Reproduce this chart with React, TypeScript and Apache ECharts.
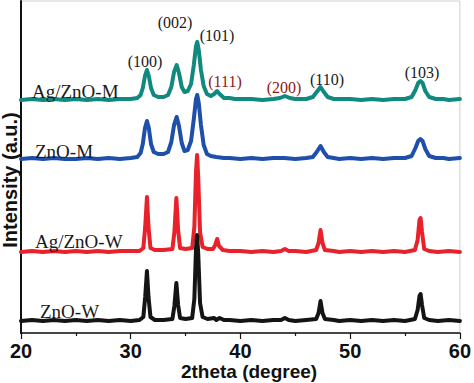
import React, { useEffect, useRef } from "react";
import * as echarts from "echarts";

// x ticks
const xTicks = [20, 30, 40, 50, 60];

// Relative intensities [2theta, counts above baseline]
const agZnoM: [number, number][] = [
  [20, 0], [21, 1], [22, 0], [23, 1], [24, 0], [25, 1], [26, 0], [27, 1], [28, 0], [29, 1], [30, 1],
  [30.6, 2], [30.9, 5], [31.1, 12], [31.3, 24], [31.48, 30], [31.65, 24], [31.85, 12], [32.1, 5], [32.5, 3],
  [33, 3], [33.4, 5], [33.7, 13], [33.95, 28], [34.19, 35], [34.4, 27], [34.65, 13], [34.9, 8], [35.2, 9],
  [35.5, 16], [35.75, 35], [35.95, 54], [36.06, 58], [36.2, 50], [36.4, 30], [36.65, 14], [36.95, 6], [37.3, 4],
  [37.6, 6], [37.87, 9], [38.1, 6], [38.5, 2], [39, 2], [39.5, 1], [40, 1], [41, 1], [42, 0], [43, 1],
  [43.6, 2], [44.05, 4], [44.5, 2], [45, 1], [46, 1], [46.6, 3], [46.95, 8], [47.3, 13], [47.6, 8], [47.95, 3],
  [48.5, 1], [49, 1], [50, 1], [51, 0], [52, 1], [53, 0], [54, 1], [55, 1], [55.6, 3], [55.95, 10], [56.2, 17],
  [56.4, 19], [56.6, 17], [56.85, 9], [57.2, 3], [57.8, 1], [58.5, 1], [59, 0], [60, 1],
];

const znoM: [number, number][] = [
  [20, 0], [21, 1], [22, 0], [23, 1], [24, 0], [25, 0], [26, 1], [27, 0], [28, 1], [29, 0], [30, 1],
  [30.6, 2], [30.9, 6], [31.1, 15], [31.3, 31], [31.48, 38], [31.65, 31], [31.85, 15], [32.1, 7], [32.5, 5],
  [33, 5], [33.4, 7], [33.7, 17], [33.95, 34], [34.19, 42], [34.4, 33], [34.65, 16], [34.9, 8], [35.2, 9],
  [35.5, 18], [35.75, 40], [35.95, 60], [36.06, 64], [36.2, 56], [36.4, 34], [36.65, 14], [36.95, 5], [37.3, 3],
  [37.8, 2], [38.5, 1], [39, 1], [40, 0], [41, 1], [42, 0], [43, 1], [44, 1], [45, 0], [46, 1],
  [46.6, 2], [46.95, 7], [47.3, 13], [47.6, 7], [47.95, 2], [48.5, 1], [49, 0], [50, 1], [51, 0], [52, 1],
  [53, 0], [54, 1], [55, 1], [55.6, 3], [55.95, 11], [56.2, 18], [56.4, 20], [56.6, 18], [56.85, 10], [57.2, 3],
  [57.8, 1], [58.5, 1], [59, 0], [60, 1],
];

const agZnoW: [number, number][] = [
  [20, 0], [21, 1], [22, 0], [23, 1], [24, 0], [25, 1], [26, 0], [27, 1], [28, 0], [29, 1], [30, 1],
  [30.8, 1], [31.15, 4], [31.32, 25], [31.48, 55], [31.62, 25], [31.8, 4], [32.2, 2], [33, 2], [33.8, 3],
  [33.98, 20], [34.16, 54], [34.32, 22], [34.5, 4], [35, 3], [35.6, 4], [35.8, 25], [35.95, 80], [36.05, 97],
  [36.15, 75], [36.32, 20], [36.55, 5], [37, 3], [37.5, 3], [37.7, 7], [37.88, 13], [38.05, 6], [38.4, 2],
  [39, 1], [40, 1], [41, 0], [42, 1], [43, 0], [43.7, 1], [44.05, 3], [44.4, 1], [45, 1], [46, 0],
  [46.9, 2], [47.12, 9], [47.3, 22], [47.48, 9], [47.7, 2], [48.5, 1], [49, 0], [50, 1], [51, 0], [52, 1],
  [53, 0], [54, 1], [55, 0], [55.9, 2], [56.15, 12], [56.32, 32], [56.42, 34], [56.55, 20], [56.75, 3],
  [57.2, 1], [58, 0], [59, 1], [60, 0],
];

const znoW: [number, number][] = [
  [20, 0], [21, 1], [22, 0], [23, 1], [24, 0], [25, 1], [26, 0], [27, 1], [28, 0], [29, 1], [30, 0],
  [30.8, 1], [31.15, 4], [31.32, 24], [31.48, 50], [31.62, 24], [31.8, 4], [32.2, 1], [33, 1], [33.8, 2],
  [33.98, 15], [34.16, 38], [34.32, 16], [34.5, 3], [35, 2], [35.6, 3], [35.8, 22], [35.95, 72], [36.05, 86],
  [36.15, 68], [36.32, 18], [36.55, 4], [37, 2], [37.6, 3], [37.8, 1], [38.1, 3], [38.5, 1], [39, 1],
  [40, 0], [41, 1], [42, 0], [43, 1], [43.7, 1], [44.05, 3], [44.4, 1], [45, 0], [46, 1],
  [46.9, 2], [47.12, 8], [47.3, 20], [47.48, 8], [47.7, 2], [48.5, 1], [49, 0], [50, 1], [51, 0], [52, 1],
  [53, 0], [54, 1], [55, 0], [55.9, 2], [56.15, 11], [56.32, 25], [56.42, 27], [56.55, 16], [56.75, 3],
  [57.2, 1], [58, 0], [59, 1], [60, 0],
];

const seriesNames = ["Ag/ZnO-M", "ZnO-M", "Ag/ZnO-W", "ZnO-W"];
const seriesOffsets = [233, 174, 81, 12];
const seriesColors = ["#10897e", "#1d4fab", "#e8212b", "#141414"];
const seriesData = [agZnoM, znoM, agZnoW, znoW];

// Peak labels
const peakLabels = ["(100)", "(002)", "(101)", "(111)", "(200)", "(110)", "(103)"];

export default function App() {
  const ref = useRef<HTMLDivElement>(null);
  useEffect(() => {
    if (!ref.current) return;
    const chart = echarts.init(ref.current, undefined, { renderer: "svg" });
    const serif = "'Liberation Serif', 'Times New Roman', serif";
    const sans = "'Liberation Sans', Arial, sans-serif";
    const labelPos: [number, number, string][] = [
      [145, 61, "#1a1a1a"],
      [175, 22, "#1a1a1a"],
      [217, 35, "#1a1a1a"],
      [225, 81, "#8b1a1a"],
      [284, 87, "#8b1a1a"],
      [327, 79, "#1a1a1a"],
      [422, 72, "#1a1a1a"],
    ];
    const namePos: [number, number][] = [
      [32, 91],
      [35, 151],
      [35, 241],
      [40, 311],
    ];
    chart.setOption({
      animation: false,
      grid: {
        left: 21,
        right: 11,
        top: 1,
        bottom: 50,
        show: true,
        borderColor: "#cfcfcf",
        borderWidth: 1,
      },
      xAxis: {
        type: "value",
        min: xTicks[0],
        max: xTicks[xTicks.length - 1],
        interval: 10,
        axisLine: { show: true, lineStyle: { color: "#111", width: 1.5 } },
        axisTick: { show: true, inside: false, length: 6, lineStyle: { color: "#111", width: 1.2 } },
        minorTick: { show: true, splitNumber: 2, length: 3, lineStyle: { color: "#111", width: 1.2 } },
        splitLine: { show: false },
        axisLabel: {
          color: "#111",
          fontFamily: sans,
          fontWeight: "bold",
          fontSize: 20,
          margin: 8,
        },
      },
      yAxis: {
        type: "value",
        min: 0,
        max: 332,
        axisLine: { show: true, lineStyle: { color: "#111", width: 2 } },
        axisTick: { show: false },
        axisLabel: { show: false },
        splitLine: { show: false },
      },
      series: seriesData.map((d, i) => ({
        name: seriesNames[i],
        type: "line",
        showSymbol: false,
        symbol: "none",
        data: d.map(([x, y]) => [x, y + seriesOffsets[i]]),
        lineStyle: { color: seriesColors[i], width: 4, join: "round", cap: "round" },
        z: 2 + i,
      })),
      graphic: [
        ...peakLabels.map((t, i) => ({
          type: "text",
          x: labelPos[i][0],
          y: labelPos[i][1],
          z: 20,
          style: {
            text: t,
            fill: labelPos[i][2],
            font: `16px ${serif}`,
            textAlign: "center",
            textVerticalAlign: "middle",
          },
        })),
        ...seriesNames.map((t, i) => ({
          type: "text",
          x: namePos[i][0],
          y: namePos[i][1],
          z: 20,
          style: {
            text: t,
            fill: "#1a1a1a",
            font: `19px ${serif}`,
            textAlign: "left",
            textVerticalAlign: "middle",
          },
        })),
        {
          type: "text",
          x: 249,
          y: 371,
          style: {
            text: "2theta (degree)",
            fill: "#111",
            font: `bold 19px ${sans}`,
            textAlign: "center",
            textVerticalAlign: "middle",
          },
        },
        {
          type: "text",
          x: 10,
          y: 180,
          rotation: Math.PI / 2,
          style: {
            text: "Intensity (a.u.)",
            fill: "#111",
            font: `bold 20px ${sans}`,
            textAlign: "center",
            textVerticalAlign: "middle",
          },
        },
      ],
    });
    return () => chart.dispose();
  }, []);
  return (
    <div
      ref={ref}
      style={{ position: "fixed", left: 0, top: 0, width: 474, height: 383, background: "#fff" }}
    />
  );
}
